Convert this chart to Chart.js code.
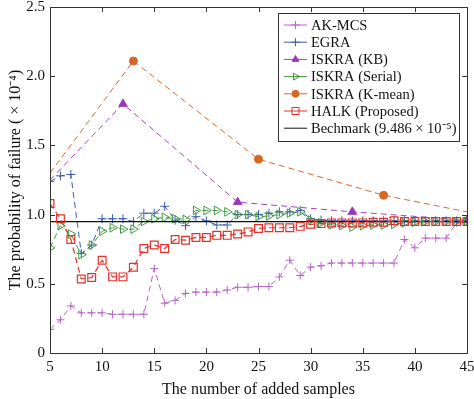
<!DOCTYPE html>
<html>
<head>
<meta charset="utf-8">
<title>Probability of failure</title>
<script src="https://cdn.jsdelivr.net/npm/chart.js@4.4.1/dist/chart.umd.min.js"></script>
<style>
  html, body { margin: 0; padding: 0; background: #fff; }
  #wrap { width: 474px; height: 399px; }
</style>
</head>
<body>
<div id="wrap"><canvas id="pfChart"></canvas></div>
<script>
// number of added samples (x axis)
const samples = [5, 6, 7, 8, 9, 10, 11, 12, 13, 14, 15, 16, 17, 18, 19, 20, 21, 22, 23, 24, 25,
                 26, 27, 28, 29, 30, 31, 32, 33, 34, 35, 36, 37, 38, 39, 40, 41, 42, 43, 44, 45];

// probability of failure (x 1e-4)
const akMcs = [0.17, 0.24, 0.34, 0.29, 0.29, 0.29, 0.28, 0.28, 0.28, 0.28, 0.61, 0.36, 0.38, 0.43, 0.44, 0.44, 0.44, 0.455, 0.475, 0.475, 0.48,
               0.48, 0.55, 0.67, 0.56, 0.62, 0.63, 0.65, 0.65, 0.65, 0.65, 0.65, 0.65, 0.65, 0.82, 0.76, 0.83, 0.83, 0.83, 0.94, 0.95];
const egra = [1.24, 1.28, 1.29, 0.72, 0.78, 0.97, 0.97, 0.97, 0.95, 1.01, 1.01, 1.06, 0.96, 0.92, 0.985, 0.955, 0.925, 0.925, 1.0, 1.0, 1.0,
              1.01, 1.02, 1.02, 1.03, 0.97, 0.96, 0.955, 0.955, 0.955, 0.955, 0.955, 0.955, 0.955, 0.955, 0.955, 0.955, 0.955, 0.955, 0.955, 0.955];
const iskraSerial = [0.76, 0.92, 0.86, 0.71, 0.78, 0.88, 0.905, 0.895, 0.895, 0.95, 0.97, 0.98, 0.97, 0.965, 1.03, 1.03, 1.03, 1.02, 1.0, 1.0, 0.985,
                     0.99, 1.0, 1.01, 1.02, 0.96, 0.94, 0.925, 0.92, 0.91, 0.92, 0.925, 0.925, 0.93, 0.94, 0.945, 0.95, 0.95, 0.95, 0.95, 0.95];
const halk = [1.08, 0.97, 0.82, 0.535, 0.545, 0.67, 0.55, 0.55, 0.62, 0.755, 0.78, 0.755, 0.82, 0.815, 0.835, 0.835, 0.85, 0.85, 0.86, 0.875, 0.90,
              0.905, 0.905, 0.905, 0.915, 0.93, 0.935, 0.94, 0.94, 0.94, 0.94, 0.945, 0.945, 0.955, 0.95, 0.95, 0.95, 0.95, 0.95, 0.95, 0.95];

// sparse series
const kbSamples = [5, 12, 23, 34, 45];
const kbValues = [1.25, 1.80, 1.09, 1.02, 0.96];
const kmeanSamples = [5, 13, 25, 37, 45];
const kmeanValues = [1.30, 2.11, 1.40, 1.14, 1.02];

const benchmarkSamples = [5, 45];
const benchmarkValue = 0.9486;

const seriesLabels = ['AK-MCS', 'EGRA', 'ISKRA (KB)', 'ISKRA (Serial)', 'ISKRA (K-mean)', 'HALK (Proposed)', 'Bechmark (9.486 \u00d7 10\u207b\u2075)'];

const serif = "'Liberation Serif', 'Times New Roman', serif";
const dash = [6, 4];

function pairs(xs, ys) {
    return xs.map((x, i) => ({ x: x, y: ys[i] }));
}

// legend drawn as a boxed MATLAB-style legend inside the plot
const boxLegend = {
    id: 'boxLegend',
    afterDraw(chart) {
        const ctx = chart.ctx;
        const area = chart.chartArea;
        const w = 181, h = 128;
        const left = area.right - w - 8;
        const top = area.top + 6;
        ctx.save();
        ctx.fillStyle = '#fff';
        ctx.fillRect(left, top, w, h);
        ctx.strokeStyle = '#333';
        ctx.lineWidth = 1;
        ctx.strokeRect(left + 0.5, top + 0.5, w, h);

        ctx.font = '14.5px ' + serif;
        ctx.textBaseline = 'middle';
        ctx.textAlign = 'left';
        chart.data.datasets.forEach((ds, i) => {
            const y = top + 12 + i * 17.2;
            ctx.setLineDash([]);
            ctx.strokeStyle = ds.borderColor;
            ctx.lineWidth = 1;
            ctx.beginPath();
            ctx.moveTo(left + 6, y);
            ctx.lineTo(left + 29, y);
            ctx.stroke();
            if (ds.legendRadius > 0 && Chart.helpers && Chart.helpers.drawPoint) {
                ctx.fillStyle = ds.pointBackgroundColor;
                ctx.strokeStyle = ds.borderColor;
                Chart.helpers.drawPoint(ctx, {
                    pointStyle: ds.pointStyle,
                    rotation: ds.pointRotation || 0,
                    radius: ds.legendRadius,
                    borderWidth: 1
                }, left + 17.5, y);
            }
            ctx.fillStyle = '#111';
            ctx.fillText(ds.label, left + 33, y + 1);
        });
        ctx.restore();
    }
};

// box around the axes with inward ticks on all four sides
const boxTicks = {
    id: 'boxTicks',
    afterDatasetsDraw(chart) {
        const ctx = chart.ctx;
        const a = chart.chartArea;
        const xs = chart.scales.x, ys = chart.scales.y;
        const len = 5;
        ctx.save();
        ctx.strokeStyle = '#333';
        ctx.lineWidth = 1;
        ctx.strokeRect(Math.round(a.left) + 0.5, Math.round(a.top) + 0.5,
                       Math.round(a.right - a.left), Math.round(a.bottom - a.top));
        ctx.beginPath();
        xs.ticks.forEach(t => {
            const px = Math.round(xs.getPixelForValue(t.value)) + 0.5;
            ctx.moveTo(px, a.bottom); ctx.lineTo(px, a.bottom - len);
            ctx.moveTo(px, a.top); ctx.lineTo(px, a.top + len);
        });
        ys.ticks.forEach(t => {
            const py = Math.round(ys.getPixelForValue(t.value)) + 0.5;
            ctx.moveTo(a.left, py); ctx.lineTo(a.left + len, py);
            ctx.moveTo(a.right, py); ctx.lineTo(a.right - len, py);
        });
        ctx.stroke();
        ctx.restore();
    }
};

const ctx = document.getElementById('pfChart').getContext('2d');

new Chart(ctx, {
    type: 'line',
    data: {
        datasets: [
            {
                label: seriesLabels[0],
                data: pairs(samples, akMcs),
                borderColor: '#b764c6',
                pointBackgroundColor: '#b764c6',
                borderWidth: 1,
                borderDash: dash,
                pointStyle: 'cross',
                pointRadius: 4,
                legendRadius: 4,
                order: 6
            },
            {
                label: seriesLabels[1],
                data: pairs(samples, egra),
                borderColor: '#3d5da6',
                pointBackgroundColor: '#3d5da6',
                borderWidth: 1,
                borderDash: dash,
                pointStyle: 'cross',
                pointRadius: 4.5,
                legendRadius: 4,
                order: 5
            },
            {
                label: seriesLabels[2],
                data: pairs(kbSamples, kbValues),
                borderColor: '#a044bd',
                pointBackgroundColor: '#9a34b8',
                borderWidth: 1,
                borderDash: dash,
                pointStyle: 'triangle',
                pointRadius: [0, 5, 5, 5, 5],
                legendRadius: 4,
                order: 4
            },
            {
                label: seriesLabels[3],
                data: pairs(samples, iskraSerial),
                borderColor: '#3e9a3e',
                pointBackgroundColor: 'rgba(255,255,255,0)',
                borderWidth: 1,
                borderDash: dash,
                pointStyle: 'triangle',
                pointRotation: 90,
                pointRadius: 5,
                legendRadius: 4,
                order: 3
            },
            {
                label: seriesLabels[4],
                data: pairs(kmeanSamples, kmeanValues),
                borderColor: '#d9682a',
                pointBackgroundColor: '#d2691e',
                borderWidth: 1,
                borderDash: dash,
                pointStyle: 'circle',
                pointRadius: [0, 4, 4, 4, 0],
                legendRadius: 3.5,
                order: 2
            },
            {
                label: seriesLabels[5],
                data: pairs(samples, halk),
                borderColor: '#e3302a',
                pointBackgroundColor: 'rgba(255,255,255,0)',
                borderWidth: 1.2,
                borderDash: dash,
                pointStyle: 'rect',
                pointRadius: 5.5,
                legendRadius: 5,
                order: 0
            },
            {
                label: seriesLabels[6],
                data: pairs(benchmarkSamples, [benchmarkValue, benchmarkValue]),
                borderColor: '#111',
                pointBackgroundColor: '#111',
                borderWidth: 1.2,
                pointRadius: 0,
                legendRadius: 0,
                order: 1
            }
        ]
    },
    options: {
        responsive: true,
        maintainAspectRatio: false,
        animation: false,
        layout: {
            padding: { top: 7, right: 7, left: 0, bottom: 0 }
        },
        plugins: {
            legend: { display: false },
            tooltip: { enabled: false }
        },
        scales: {
            x: {
                type: 'linear',
                min: 5,
                max: 45,
                grid: { display: false, drawTicks: false },
                border: { display: false },
                ticks: {
                    stepSize: 5,
                    padding: 5,
                    color: '#111',
                    font: { family: serif, size: 15 },
                    maxRotation: 0
                },
                title: {
                    display: true,
                    text: 'The number of added samples',
                    color: '#111',
                    font: { family: serif, size: 16 },
                    padding: { top: 0, bottom: 0 }
                },
                afterFit: function(scale) {
                    scale.height = 46;
                    scale.paddingLeft = 0;
                    scale.paddingRight = 0;
                }
            },
            y: {
                min: 0,
                max: 2.5,
                grid: { display: false, drawTicks: false },
                border: { display: false },
                ticks: {
                    stepSize: 0.5,
                    padding: 5,
                    color: '#111',
                    font: { family: serif, size: 15 },
                    callback: function(v) { return v === 0 ? '0' : v.toFixed(1); }
                },
                title: {
                    display: true,
                    text: 'The probability of failure ( \u00d7 10\u207b\u2074)',
                    color: '#111',
                    font: { family: serif, size: 16 },
                    padding: { top: 6, bottom: 0 }
                },
                afterFit: function(scale) {
                    scale.width = 50;
                    scale.paddingTop = 0;
                    scale.paddingBottom = 0;
                }
            }
        }
    },
    plugins: [boxTicks, boxLegend]
});
</script>
</body>
</html>
